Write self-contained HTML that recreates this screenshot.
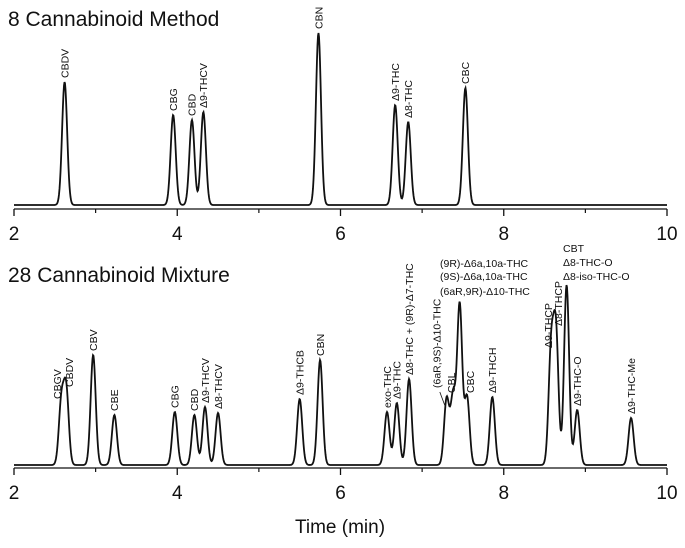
<!DOCTYPE html>
<html><head><meta charset="utf-8"><style>
body{margin:0;background:#fff;}
svg{display:block;font-family:"Liberation Sans",Arial,sans-serif;}
</style></head><body>
<svg id="c" width="685" height="548" viewBox="0 0 685 548">
<text x="8" y="26" font-size="21" fill="#111">8 Cannabinoid Method</text>
<text x="8" y="282" font-size="21" fill="#111">28 Cannabinoid Mixture</text>
<text x="340" y="533" font-size="19" text-anchor="middle" fill="#111">Time (min)</text>
<g id="g"></g>
</svg>
<script>
const topNames=["CBDV","CBG","CBD","Δ9-THCV","CBN","Δ9-THC","Δ8-THC","CBC"];
const topTimes=[2.62,3.95,4.18,4.32,5.73,6.67,6.83,7.53];
const topHeights=[123,90,85,93,172,100,83,117];
const botNames=["CBGV","CBDV","CBV","CBE","CBG","CBD","Δ9-THCV","Δ8-THCV","Δ9-THCB","CBN","exo-THC","Δ9-THC","Δ8-THC + (9R)-Δ7-THC","(6aR,9S)-Δ10-THC","CBL","(9R)-Δ6a,10a-THC","CBC","Δ9-THCH","Δ9-THCP","Δ8-THCP","CBT","Δ9-THC-O","Δ9-THC-Me"];
const botTimes=[2.58,2.64,2.97,3.23,3.97,4.21,4.34,4.50,5.50,5.75,6.57,6.69,6.84,7.30,7.38,7.46,7.55,7.86,8.58,8.64,8.77,8.90,9.56];
const botHeights=[62,74,110,50,53,50,58,52,66,105,53,62,86,66,68,160,68,68,113,130,180,55,47];
const xTicks=[2,4,6,8,10];
const minorTicks=[3,5,7,9];
const NS="http://www.w3.org/2000/svg";
const g=document.getElementById('g');
const X0=14,X1=667;
function xs(t){return X0+(t-2)/8*(X1-X0);}
function mk(tag,attrs){const e=document.createElementNS(NS,tag);for(const k in attrs)e.setAttribute(k,attrs[k]);g.appendChild(e);return e;}
function panel(times,heights,base,axisY,prefix){
  let d="";const sig=0.031;
  for(let px=X0;px<=X1;px+=0.5){
    const t=2+(px-X0)/(X1-X0)*8;let y=0;
    for(let i=0;i<times.length;i++){const z=(t-times[i])/sig;y+=heights[i]*Math.exp(-0.5*z*z);}
    d+=(d?"L":"M")+px.toFixed(1)+","+(base-y).toFixed(2);
  }
  const p=mk('path',{d:d,fill:'none',stroke:'#111','stroke-width':1.8});
  
  
  const ax=mk('line',{x1:X0,x2:X1,y1:axisY,y2:axisY,stroke:'#111','stroke-width':1.3});
  
  
  xTicks.forEach(v=>{
    const l=mk('line',{x1:xs(v),x2:xs(v),y1:axisY,y2:axisY+7,stroke:'#111','stroke-width':1.3});
    
    
    const tx=mk('text',{x:xs(v),y:axisY+31,'font-size':19,'text-anchor':'middle',fill:'#111'});
    tx.textContent=v;
    
    
  });
  minorTicks.forEach(v=>{
    const l=mk('line',{x1:xs(v),x2:xs(v),y1:axisY,y2:axisY+4,stroke:'#111','stroke-width':1.2});
    
    
  });
}
function vlabel(t,yTop,txt,dx){
  const x=xs(t)+(dx||0)+3.8;
  const e=mk('text',{x:0,y:0,'font-size':10.5,fill:'#111',transform:`translate(${x},${yTop-4}) rotate(-90)`});
  e.textContent=txt;
  
  
}
panel(topTimes,topHeights,205,209,'top');
panel(botTimes,botHeights,465,468,'bottom');
topTimes.forEach((t,i)=>vlabel(t,205-topHeights[i],topNames[i]));
const skip={"(9R)-Δ6a,10a-THC":1,"CBT":1,"(6aR,9S)-Δ10-THC":1};
const offs={"CBGV":-4,"CBDV":3,"CBL":-2,"CBC":3,"Δ9-THCP":-3,"Δ8-THCP":2};
botTimes.forEach((t,i)=>{
  const n=botNames[i];if(skip[n])return;
  let top=465-botHeights[i];
  if(n==="Δ8-THCP")top-=5;
  vlabel(t,top,n,offs[n]);
});
vlabel(7.18,392,"(6aR,9S)-Δ10-THC",0);
const ld=mk('line',{x1:xs(7.18)+3,y1:392,x2:xs(7.29),y2:408,stroke:'#111','stroke-width':0.8});


function hlabel(x,y,txt,nm){
  const e=mk('text',{x:x,y:y,'font-size':10.5,fill:'#111'});
  e.textContent=txt;
  
  
}
hlabel(440,267,"(9R)-Δ6a,10a-THC","peak-label");
hlabel(440,280,"(9S)-Δ6a,10a-THC","peak-label");
hlabel(440,295,"(6aR,9R)-Δ10-THC","peak-label");
hlabel(563,252,"CBT","peak-label");
hlabel(563,266,"Δ8-THC-O","peak-label");
hlabel(563,280,"Δ8-iso-THC-O","peak-label");
</script>
</body></html>
